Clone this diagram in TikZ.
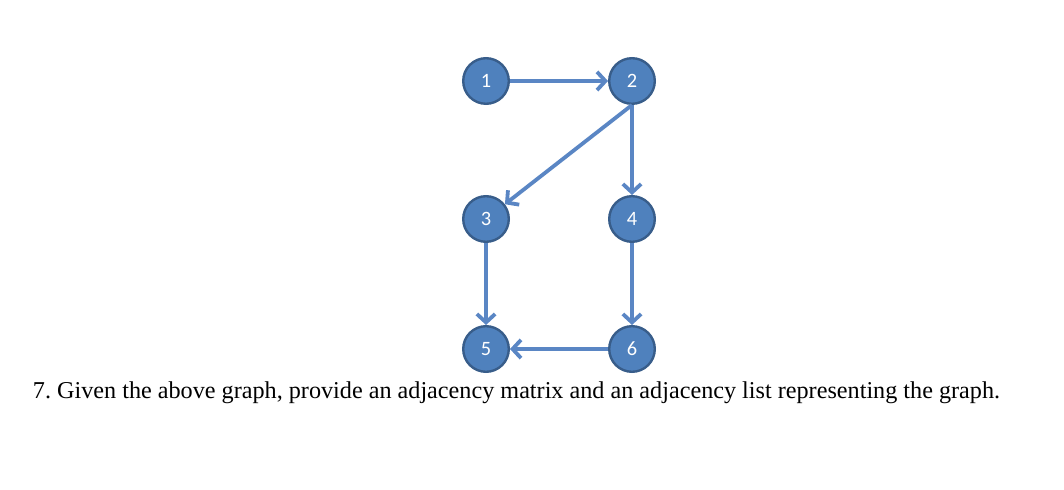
\documentclass[tikz,border=0pt]{standalone}
\usepackage{fontspec}
\setmainfont{Liberation Serif}
\newfontfamily\vertexfont{Carlito}
\usetikzlibrary{arrows.meta}

\definecolor{vertexblue}{HTML}{4F81BD}
\definecolor{vertexrim}{HTML}{385D8A}
\definecolor{edgeblue}{HTML}{5A86C4}

\begin{document}
\frenchspacing
\begin{tikzpicture}[x=0.025cm,y=-0.025cm,
        vertex/.style={circle, fill=vertexblue, draw=vertexrim, line width=1.7pt,
            minimum size=1.14cm, inner sep=0pt, text=white,
            font=\vertexfont\fontsize{14.5}{16}\selectfont},
        edge/.style={draw=edgeblue, line width=2.7pt,
            -{Straight Barb[length=6pt,width=13pt]}}]

        \useasboundingbox (0,0) rectangle (1064,490);

        % Define vertex columns and rows (pixel units)
        \def\colL{486}
        \def\colR{632}
        \def\rowTop{81}
        \def\rowMid{219}
        \def\rowLow{349}

        % Draw the vertices
        \node[vertex] (n1) at (\colL,\rowTop) {1};
        \node[vertex] (n2) at (\colR,\rowTop) {2};
        \node[vertex] (n3) at (\colL,\rowMid) {3};
        \node[vertex] (n4) at (\colR,\rowMid) {4};
        \node[vertex] (n5) at (\colL,\rowLow) {5};
        \node[vertex] (n6) at (\colR,\rowLow) {6};

        % Directed edges
        \draw[edge] (n1) -- (n2);
        \draw[edge] (n2.south) -- (n3);
        \draw[edge] (n2) -- (n4);
        \draw[edge] (n3) -- (n5);
        \draw[edge] (n4) -- (n6);
        \draw[edge] (n6) -- (n5);

        % Question text
        \node[font=\fontsize{17.2}{20}\selectfont] (question) at (516.5,393)
            {7. Given the above graph, provide an adjacency matrix and an adjacency list representing the graph.};

    \end{tikzpicture}
\end{document}
